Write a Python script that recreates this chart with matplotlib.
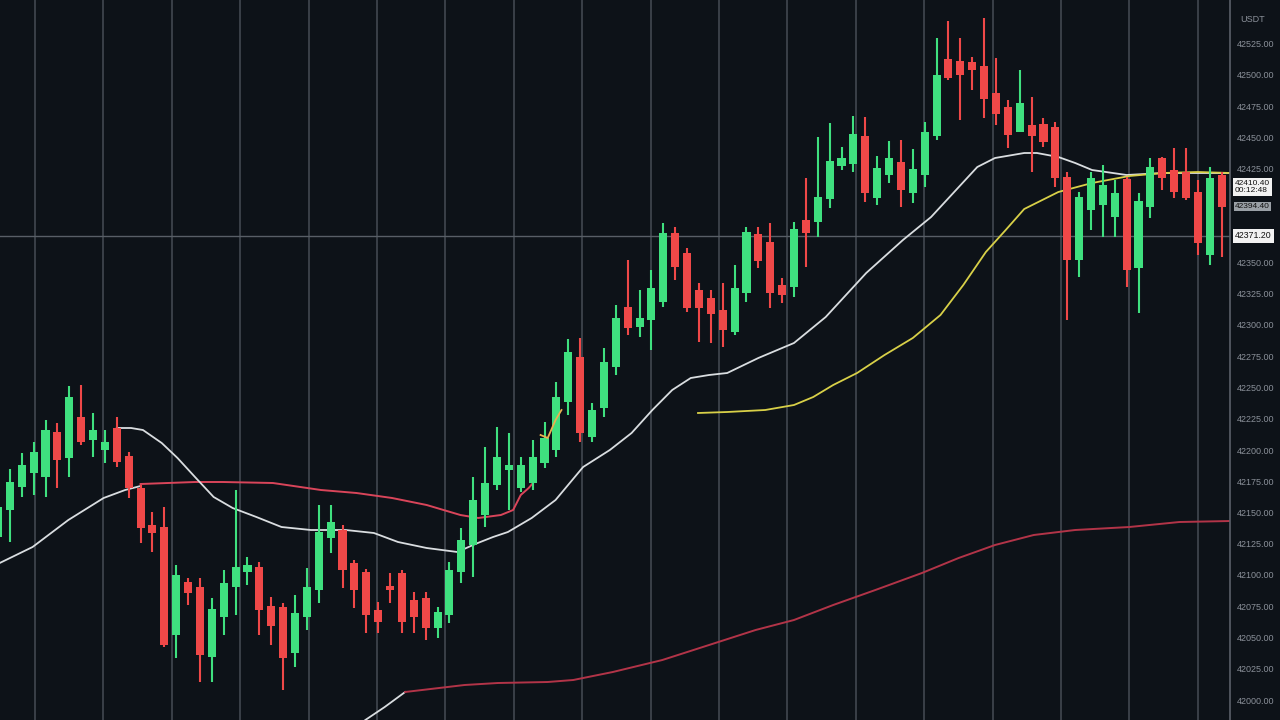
import numpy as np
import matplotlib.pyplot as plt

# K线数据: 开, 高, 低, 收
opens = [42130.4, 42152, 42170.4, 42181.6, 42178.4, 42214.4, 42193.6, 42226.4, 42208, 42200,
         42217.6, 42195.2, 42169.6, 42140, 42138.4, 42052, 42094.4, 42090.4, 42034.4, 42066.4,
         42090.4, 42102.4, 42106.4, 42075.2, 42074.4, 42037.6, 42066.4, 42088, 42129.6, 42136,
         42109.6, 42102.4, 42072, 42091.2, 42101.6, 42080, 42081.6, 42057.6, 42068, 42102.4,
         42124, 42148, 42172, 42184, 42169.6, 42173.6, 42189.6, 42200, 42238.4, 42274.4,
         42210.4, 42233.6, 42266.4, 42314.4, 42298.4, 42304, 42318.4, 42373.6, 42357.6, 42328,
         42321.6, 42312, 42294.4, 42325.6, 42372.8, 42366.4, 42332, 42330.4, 42384, 42382.4,
         42400.8, 42427.2, 42428.8, 42451.2, 42401.6, 42420, 42430.4, 42405.6, 42420, 42451.2,
         42512.8, 42511.2, 42510.4, 42507.2, 42485.6, 42474.4, 42454.4, 42460, 42460.8, 42458.4,
         42418.4, 42352, 42392, 42396, 42386.4, 42416.8, 42345.6, 42394.4, 42433.6, 42424,
         42422.4, 42406.4, 42356, 42420]
highs = [42162.4, 42184.8, 42197.6, 42206.4, 42224, 42221.6, 42251.2, 42252, 42229.6, 42216,
         42226.4, 42198.4, 42172, 42150.4, 42154.4, 42108, 42097.6, 42097.6, 42081.6, 42104,
         42168, 42114.4, 42110.4, 42082.4, 42077.6, 42084, 42105.6, 42156, 42156, 42140,
         42112, 42104.8, 42078.4, 42101.6, 42104, 42086.4, 42086.4, 42074.4, 42110.4, 42137.6,
         42178.4, 42202.4, 42218.4, 42213.6, 42194.4, 42208, 42222.4, 42254.4, 42288.8, 42289.6,
         42237.6, 42281.6, 42316, 42352, 42328, 42344, 42381.6, 42378.4, 42361.6, 42333.6,
         42328, 42333.6, 42348, 42378.4, 42378.4, 42381.6, 42337.6, 42382.4, 42417.6, 42450.4,
         42461.6, 42442.4, 42467.2, 42466.4, 42435.2, 42447.2, 42448, 42440.8, 42462.4, 42529.6,
         42543.2, 42529.6, 42514.4, 42545.6, 42513.6, 42480, 42504, 42482.4, 42465.6, 42462.4,
         42422.4, 42406.4, 42422.4, 42428, 42416, 42418.4, 42405.6, 42433.6, 42434.4, 42441.6,
         42441.6, 42416, 42426.4, 42422.4]
lows = [42122.4, 42126.4, 42162.4, 42164, 42162.4, 42169.6, 42178.4, 42204, 42194.4, 42189.6,
        42186.4, 42161.6, 42125.6, 42118.4, 42042.4, 42033.6, 42076, 42014.4, 42014.4, 42052,
        42068, 42092, 42052, 42044, 42008, 42026.4, 42056, 42077.6, 42117.6, 42089.6,
        42073.6, 42053.6, 42053.6, 42077.6, 42053.6, 42053.6, 42048, 42049.6, 42061.6, 42093.6,
        42098.4, 42138.4, 42168, 42152, 42166.4, 42168, 42185.6, 42194.4, 42228, 42206.4,
        42206.4, 42226.4, 42260, 42292, 42290.4, 42280, 42314.4, 42336, 42310.4, 42286.4,
        42285.6, 42282.4, 42292, 42318.4, 42345.6, 42313.6, 42317.6, 42322.4, 42346.4, 42370.4,
        42393.6, 42424, 42422.4, 42398.4, 42396, 42413.6, 42394.4, 42397.6, 42410.4, 42448,
        42496, 42464, 42488, 42465.6, 42460, 42441.6, 42454.4, 42422.4, 42442.4, 42410.4,
        42304, 42338.4, 42376, 42370.4, 42370.4, 42330.4, 42309.6, 42385.6, 42408, 42401.6,
        42400, 42356, 42348, 42354.4]
closes = [42154.4, 42174.4, 42188, 42198.4, 42216, 42192, 42242.4, 42206.4, 42216, 42206.4,
          42190.4, 42169.6, 42137.6, 42133.6, 42044, 42100, 42085.6, 42036, 42072.8, 42093.6,
          42106.4, 42108, 42072, 42059.2, 42033.6, 42069.6, 42090.4, 42134.4, 42142.4, 42104,
          42088, 42068, 42062.4, 42088, 42062.4, 42066.4, 42057.6, 42070.4, 42104, 42128,
          42160, 42173.6, 42194.4, 42188, 42188, 42194.4, 42209.6, 42242.4, 42278.4, 42213.6,
          42232, 42270.4, 42305.6, 42297.6, 42305.6, 42329.6, 42373.6, 42346.4, 42313.6, 42313.6,
          42308.8, 42296, 42329.6, 42374.4, 42351.2, 42325.6, 42324, 42376.8, 42373.6, 42402.4,
          42431.2, 42433.6, 42452.8, 42405.6, 42425.6, 42433.6, 42408, 42424.8, 42454.4, 42500,
          42497.6, 42500, 42504, 42480.8, 42468.8, 42452, 42477.6, 42451.2, 42446.4, 42417.6,
          42352, 42402.4, 42417.6, 42412, 42405.6, 42344, 42399.2, 42426.4, 42417.6, 42406.4,
          42401.6, 42365.6, 42417.6, 42394.4]

# 均线 (x 为K线序号)
ma_white_x = [10, 11.2, 12.2, 13.78, 15.11, 16.58, 18.15, 19.75, 21.75, 23.86, 26.33, 29.27, 31.64,
              33.67, 36.08, 38.67, 40.17, 41.67, 42.92, 44.92, 46.93, 49.25, 51.5, 53.33, 55.08,
              56.75, 58.31, 59.85, 61.38, 64, 67, 69.67, 73.08, 76.17, 78.54, 80.64, 82.43, 83.92,
              86.38, 87.45, 89.25, 90.67, 92.09, 95, 98.08, 101, 103.75]
ma_white_y = [42217.6, 42217.6, 42216, 42205.6, 42193.6, 42178.4, 42162.4, 42153.6, 42146.4, 42138.4,
              42136, 42136, 42133.6, 42126.4, 42121.6, 42118.4, 42124.8, 42130.4, 42134.4, 42145.6,
              42160, 42186.4, 42200, 42213.6, 42232, 42248, 42257.6, 42260, 42261.6, 42273.6,
              42285.6, 42306.4, 42341.6, 42368, 42386.4, 42408, 42426.4, 42433.6, 42437.6, 42437.6,
              42434.4, 42429.6, 42424, 42420, 42421.6, 42421.6, 42421.6]

ma_left_x = [-0.2, 2.91, 5.92, 8.89, 10.7, 12]
ma_left_y = [42108, 42122.4, 42144, 42161.6, 42168, 42171.2]

ma_red_x = [12, 16.58, 18.92, 23.14, 27.18, 30.17, 33.17, 36.08, 38.92, 40.42, 42.33, 43.36, 44,
            44.67, 45.25]
ma_red_y = [42172.8, 42174.4, 42174.4, 42173.6, 42168, 42165.6, 42161.6, 42156, 42148, 42145.6,
            42148, 42152, 42164, 42169.6, 42176]

ma_orange_x = [45.67, 46.27, 46.93, 47.43]
ma_orange_y = [42212, 42209.6, 42224, 42232]

ma_yellow_x = [58.92, 61.38, 64.58, 67, 68.62, 70.3, 72.31, 74.62, 77, 79.33, 81.25, 83.15, 84.82,
               86.38, 89.25, 92.09, 95.23, 98.08, 101, 103.75]
ma_yellow_y = [42229.6, 42230.4, 42232, 42236, 42242.4, 42252, 42261.6, 42276, 42289.6, 42308,
               42332, 42358.4, 42376, 42392.8, 42406.4, 42413.6, 42419.2, 42421.6, 42422.4, 42421.6]

ma_long_x = [30.92, 32.55, 34.27, 39.27, 42.08, 46.27, 48.42, 51.75, 55.92, 59.85, 63.77, 67, 70.3,
             73.85, 77.77, 80.86, 83.92, 87.18, 90.67, 95.23, 99.45, 103.75]
ma_long_y = [41984, 41994.4, 42006.4, 42012, 42013.6, 42014.4, 42016, 42022.4, 42032, 42044,
             42056, 42064, 42076, 42088, 42101.6, 42113.6, 42124, 42132, 42136, 42138.4, 42142.4,
             42143.2]

price_ticks = np.arange(42000, 42526, 25)
cross_price = 42371.2
last_price = 42410.4

bg = '#0d1218'
up_c = '#3fe07f'
dn_c = '#ef4848'

fig = plt.figure(figsize=(12.8, 7.2), dpi=100, facecolor=bg)
ax = fig.add_axes([0, 0, 1230 / 1280, 1], facecolor=bg)

o = np.array(opens); h = np.array(highs); l = np.array(lows); c = np.array(closes)
x = np.arange(len(o))
cols = np.where(c >= o, up_c, dn_c)

# 网格竖线
for gx in np.arange(3.11, 104, 5.758):
    ax.axvline(gx, color='#3d434b', lw=1.3, zorder=1)
ax.axhline(cross_price, color='#585e66', lw=1, zorder=1)

# 均线
ax.plot(ma_left_x, ma_left_y, color='#d9dde0', lw=1.3, zorder=2)
ax.plot(ma_red_x, ma_red_y, color='#d9455a', lw=1.4, zorder=2)
ax.plot(ma_orange_x, ma_orange_y, color='#e8b050', lw=1.3, zorder=5)
ax.plot(ma_white_x, ma_white_y, color='#d9dde0', lw=1.3, zorder=2)
ax.plot(ma_yellow_x, ma_yellow_y, color='#d8d048', lw=1.3, zorder=2)
ax.plot(ma_long_x[:3], ma_long_y[:3], color='#d9dde0', lw=1.3, zorder=2)
ax.plot(ma_long_x[2:], ma_long_y[2:], color='#b23448', lw=1.4, zorder=2)

# 画K线
ax.vlines(x, l, h, colors=cols, lw=1.5, zorder=3)
body = np.maximum(np.abs(c - o), 2.0)
ax.bar(x, body, bottom=np.minimum(o, c), width=0.68, color=cols, zorder=4)

ax.set_xlim(0.168, 103.7)
ax.set_ylim(41984, 42560)
ax.set_xticks([])
ax.yaxis.tick_right()
ax.set_yticks(price_ticks)
# 被价格标签挡住的刻度不显示
labels = ['' if p in (42375, 42400) else '{:.2f}'.format(p) for p in price_ticks]
ax.set_yticklabels(labels, family='Liberation Sans')
ax.tick_params(axis='y', length=0, pad=5, labelsize=6.5, labelcolor='#8a9099')
for s in ['top', 'left', 'bottom']:
    ax.spines[s].set_visible(False)
ax.spines['right'].set_color('#5a6069')
ax.spines['right'].set_linewidth(1.2)

# 价格标签
tr = ax.get_yaxis_transform()
ax.text(1.004, cross_price, '{:.2f}'.format(cross_price), transform=tr, fontsize=6.3,
        family='Liberation Sans', va='center', ha='left', color='#111111',
        bbox=dict(boxstyle='square,pad=0.25', fc='#f2f2f2', ec='none'), zorder=10)
ax.text(1.004, last_price, '{:.2f}\n00:12:48'.format(last_price), transform=tr, fontsize=6,
        family='Liberation Sans', va='center', ha='left', color='#111111', linespacing=1.1,
        bbox=dict(boxstyle='square,pad=0.25', fc='#f2f2f2', ec='none'), zorder=10)
ax.text(1.004, 42395.0, '{:.2f}'.format(closes[-1]), transform=tr, fontsize=6,
        family='Liberation Sans', va='center', ha='left', color='#111111',
        bbox=dict(boxstyle='square,pad=0.15', fc='#9aa0a6', ec='none'), zorder=10)
fig.text(1253 / 1280, 1 - 20 / 720, 'USDT', fontsize=6.5, family='Liberation Sans',
         color='#8a9099', ha='center', va='center')

fig.savefig('out.png', dpi=100, facecolor=bg)
